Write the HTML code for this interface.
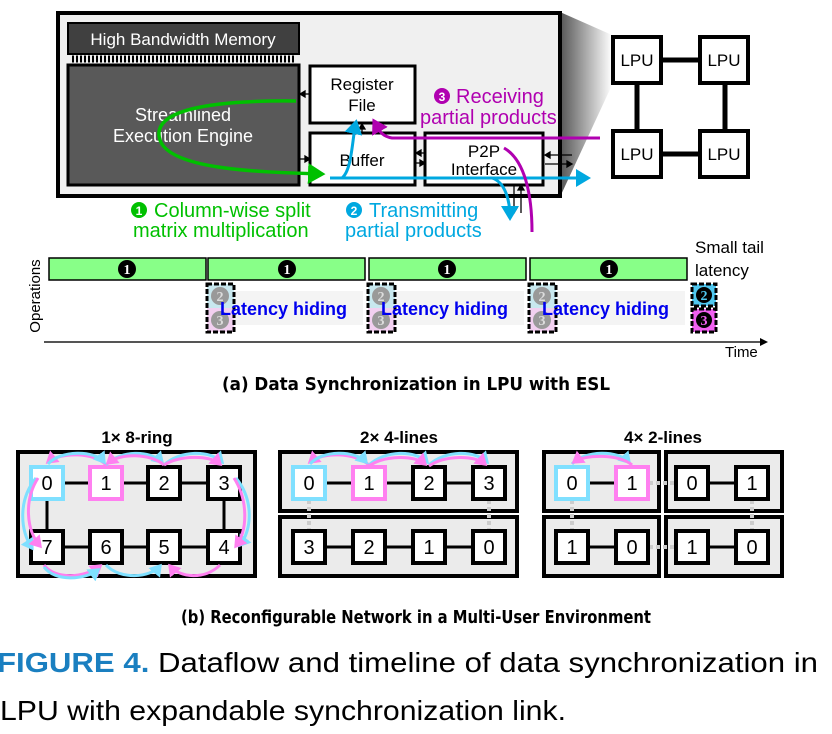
<!DOCTYPE html>
<html><head><meta charset="utf-8"><style>
html,body{margin:0;padding:0;background:#fff;}
svg{display:block;font-family:"Liberation Sans",Arial,sans-serif;}
</style></head><body>
<svg width="832" height="734" viewBox="0 0 832 734" xmlns="http://www.w3.org/2000/svg">
<defs>
<linearGradient id="sh" x1="0" x2="1" y1="0" y2="0"><stop offset="0" stop-color="#555"/><stop offset="1" stop-color="#fff"/></linearGradient>
<marker id="ag" markerWidth="6" markerHeight="6" refX="4" refY="3" orient="auto" markerUnits="strokeWidth"><path d="M0,0 L5,3 L0,6z" fill="#00c000"/></marker>
<marker id="ab" markerWidth="6" markerHeight="6" refX="4" refY="3" orient="auto" markerUnits="strokeWidth"><path d="M0,0 L5,3 L0,6z" fill="#00a8e0"/></marker>
<marker id="am" markerWidth="6" markerHeight="6" refX="4" refY="3" orient="auto" markerUnits="strokeWidth"><path d="M0,0 L5,3 L0,6z" fill="#b000b0"/></marker>
<marker id="ak" markerWidth="8" markerHeight="8" refX="6" refY="4" orient="auto" markerUnits="userSpaceOnUse"><path d="M0,0 L8,4 L0,8z" fill="#000"/></marker>
<marker id="pc" markerWidth="5" markerHeight="5" refX="3" refY="2.5" orient="auto" markerUnits="strokeWidth"><path d="M0,0 L4,2.5 L0,5z" fill="#7fe0ff"/></marker>
<marker id="pm" markerWidth="5" markerHeight="5" refX="3" refY="2.5" orient="auto" markerUnits="strokeWidth"><path d="M0,0 L4,2.5 L0,5z" fill="#ff80f0"/></marker>
</defs>

<polygon points="560,12 612,35 612,85 560,197" fill="url(#sh)"/>
<rect x="58" y="13" width="502" height="183" fill="#f0f0f0" stroke="#000" stroke-width="4"/>
<rect x="68" y="23" width="231" height="31" fill="#404040" stroke="#000" stroke-width="2"/>
<text x="183" y="45" font-size="17" fill="#fff" text-anchor="middle">High Bandwidth Memory</text>
<line x1="72" y1="59" x2="296" y2="59" stroke="#000" stroke-width="7" stroke-dasharray="2,2"/>
<rect x="68" y="65" width="231" height="120" fill="#595959" stroke="#000" stroke-width="3"/>
<text x="183" y="121" font-size="18" fill="#fff" text-anchor="middle">Streamlined</text>
<text x="183" y="142" font-size="18" fill="#fff" text-anchor="middle">Execution Engine</text>
<rect x="310" y="66" width="105" height="57" fill="#fff" stroke="#000" stroke-width="3"/>
<text x="362" y="90" font-size="17" text-anchor="middle">Register</text>
<text x="362" y="111" font-size="17" text-anchor="middle">File</text>
<rect x="310" y="133" width="105" height="52" fill="#fff" stroke="#000" stroke-width="3"/>
<text x="362" y="166" font-size="17" text-anchor="middle">Buffer</text>
<rect x="425" y="133" width="118" height="52" fill="#fff" stroke="#000" stroke-width="3"/>
<text x="484" y="157" font-size="17" text-anchor="middle">P2P</text>
<text x="484" y="175" font-size="17" text-anchor="middle">Interface</text>
<g stroke="#000" stroke-width="1.3">
<line x1="310" y1="94" x2="302" y2="94"/><path d="M300,94 l5,-3 v6z"/>
<line x1="300" y1="159" x2="308" y2="159"/><path d="M310,159 l-5,-3 v6z"/>
<line x1="362" y1="133" x2="362" y2="127"/><path d="M362,124 l-3,5 h6z"/>
<line x1="425" y1="153" x2="418" y2="153"/><path d="M416,153 l5,-3 v6z"/>
<line x1="416" y1="163" x2="423" y2="163"/><path d="M425,163 l-5,-3 v6z"/>
<line x1="572" y1="155" x2="547" y2="155"/><path d="M545,155 l5,-3 v6z"/>
<line x1="545" y1="164" x2="570" y2="164"/><path d="M572,164 l-5,-3 v6z"/>
<line x1="514" y1="185" x2="514" y2="210"/><path d="M514,213 l-3,-5 h6z"/>
<line x1="521" y1="213" x2="521" y2="188"/><path d="M521,185 l-3,5 h6z"/>
</g>
<path d="M296,101 C210,100 150,110 160,140 C170,170 260,172 322,174" fill="none" stroke="#00c000" stroke-width="3.5" marker-end="url(#ag)"/>
<path d="M330,178 L588,178" fill="none" stroke="#00a8e0" stroke-width="3" marker-end="url(#ab)"/>
<path d="M342,178 C352,170 352,140 356,122" fill="none" stroke="#00a8e0" stroke-width="3" marker-end="url(#ab)"/>
<path d="M492,178 C505,182 510,200 510,218" fill="none" stroke="#00a8e0" stroke-width="3" marker-end="url(#ab)"/>
<path d="M600,138 L392,138 C380,136 378,128 374,121" fill="none" stroke="#b000b0" stroke-width="3" marker-end="url(#am)"/>
<path d="M504,148 C525,160 532,195 532,232" fill="none" stroke="#b000b0" stroke-width="3"/>
<g font-size="20">
<circle cx="139" cy="210" r="8" fill="#00c000"/><text x="139" y="215" font-size="12" font-weight="bold" fill="#fff" text-anchor="middle">1</text>
<text x="154" y="217" fill="#00c000">Column-wise split</text>
<text x="133" y="237" fill="#00c000">matrix multiplication</text>
<circle cx="354" cy="210" r="8" fill="#00a8e0"/><text x="354" y="215" font-size="12" font-weight="bold" fill="#fff" text-anchor="middle">2</text>
<text x="369" y="217" fill="#00a8e0">Transmitting</text>
<text x="345" y="237" fill="#00a8e0">partial products</text>
<circle cx="442" cy="96" r="8" fill="#b000b0"/><text x="442" y="101" font-size="12" font-weight="bold" fill="#fff" text-anchor="middle">3</text>
<text x="456" y="103" fill="#b000b0">Receiving</text>
<text x="420" y="124" fill="#b000b0">partial products</text>
</g>
<g stroke="#000">
<line x1="662" y1="60" x2="700" y2="60" stroke-width="5"/>
<line x1="662" y1="154" x2="700" y2="154" stroke-width="5"/>
<line x1="637" y1="85" x2="637" y2="129" stroke-width="5"/>
<line x1="725" y1="85" x2="725" y2="129" stroke-width="5"/>
<rect x="613" y="37" width="48" height="46" fill="#fff" stroke-width="4"/>
<rect x="700" y="37" width="48" height="46" fill="#fff" stroke-width="4"/>
<rect x="613" y="131" width="48" height="46" fill="#fff" stroke-width="4"/>
<rect x="700" y="131" width="48" height="46" fill="#fff" stroke-width="4"/>
</g>
<g font-size="17" text-anchor="middle">
<text x="637" y="66">LPU</text><text x="724" y="66">LPU</text>
<text x="637" y="160">LPU</text><text x="724" y="160">LPU</text>
</g>

<g stroke="#000" stroke-width="1.5" fill="#88ff88">
<rect x="49" y="258" width="157" height="22"/>
<rect x="208" y="258" width="157" height="22"/>
<rect x="369" y="258" width="157" height="22"/>
<rect x="530" y="258" width="157" height="22"/>
</g>
<g>
<circle cx="127" cy="269" r="9"/><circle cx="287" cy="269" r="9"/><circle cx="447" cy="269" r="9"/><circle cx="609" cy="269" r="9"/>
</g>
<g font-size="14" font-weight="bold" fill="#fff" text-anchor="middle" font-family="Liberation Serif,serif">
<text x="127" y="274">1</text><text x="287" y="274">1</text><text x="447" y="274">1</text><text x="609" y="274">1</text>
</g>
<g>
<rect x="234" y="291" width="129" height="34" fill="#f4f4f4"/>
<rect x="395" y="291" width="129" height="34" fill="#f4f4f4"/>
<rect x="556" y="291" width="129" height="34" fill="#f4f4f4"/>
</g>
<g id="db">
<rect x="207" y="284" width="27" height="24" fill="#c8e8ef"/>
<rect x="207" y="308" width="27" height="24" fill="#f2d0f0"/>
<rect x="207" y="284" width="27" height="48" fill="none" stroke="#000" stroke-width="3" stroke-dasharray="5,2"/>
<circle cx="220" cy="296" r="9" fill="#999"/><circle cx="220" cy="320" r="9" fill="#999"/>
<text x="220" y="301" font-size="14" font-weight="bold" fill="#ddd" text-anchor="middle" font-family="Liberation Serif,serif">2</text>
<text x="220" y="325" font-size="14" font-weight="bold" fill="#ddd" text-anchor="middle" font-family="Liberation Serif,serif">3</text>
</g>
<use href="#db" x="161"/><use href="#db" x="322"/>
<g font-size="18" font-weight="bold" fill="#0000ee">
<text x="220" y="315">Latency hiding</text>
<text x="381" y="315">Latency hiding</text>
<text x="542" y="315">Latency hiding</text>
</g>
<rect x="692" y="284" width="24" height="22" fill="#50c8f0" stroke="#000" stroke-width="3" stroke-dasharray="5,2"/>
<rect x="692" y="309" width="24" height="23" fill="#f060f0" stroke="#000" stroke-width="3" stroke-dasharray="5,2"/>
<circle cx="704" cy="295" r="8"/><circle cx="704" cy="320" r="8"/>
<text x="704" y="300" font-size="14" font-weight="bold" fill="#50c8f0" text-anchor="middle" font-family="Liberation Serif,serif">2</text>
<text x="704" y="325" font-size="14" font-weight="bold" fill="#f060f0" text-anchor="middle" font-family="Liberation Serif,serif">3</text>
<text x="695" y="253" font-size="17">Small tail</text>
<text x="695" y="276" font-size="17">latency</text>
<line x1="44" y1="342" x2="766" y2="342" stroke="#555" stroke-width="2" marker-end="url(#ak)"/>
<text x="725" y="357" font-size="15">Time</text>
<text transform="translate(40,296) rotate(-90)" font-size="15" text-anchor="middle">Operations</text>

<text x="416" y="390" font-size="18" font-weight="bold" text-anchor="middle" font-family="DejaVu Sans Condensed, DejaVu Sans, sans-serif" textLength="388" lengthAdjust="spacingAndGlyphs">(a) Data Synchronization in LPU with ESL</text>

<g font-size="17" font-weight="bold" text-anchor="middle">
<text x="137" y="443">1× 8-ring</text>
<text x="399" y="443">2× 4-lines</text>
<text x="663" y="443">4× 2-lines</text>
</g>
<g fill="#ebebeb" stroke="#000" stroke-width="4">
<rect x="18" y="452" width="237" height="124"/>
<rect x="280" y="452" width="237" height="59"/>
<rect x="280" y="517" width="237" height="59"/>
<rect x="544" y="452" width="115" height="59"/>
<rect x="666" y="452" width="116" height="59"/>
<rect x="544" y="517" width="115" height="59"/>
<rect x="666" y="517" width="116" height="59"/>
</g>
<g stroke="#000" stroke-width="3">
<line x1="47" y1="483" x2="224" y2="483"/><line x1="47" y1="547" x2="224" y2="547"/>
<line x1="47" y1="483" x2="47" y2="547"/><line x1="224" y1="483" x2="224" y2="547"/>
<line x1="309" y1="483" x2="489" y2="483"/><line x1="309" y1="547" x2="489" y2="547"/>
<line x1="572" y1="483" x2="632" y2="483"/><line x1="572" y1="547" x2="632" y2="547"/>
<line x1="692" y1="483" x2="752" y2="483"/><line x1="692" y1="547" x2="752" y2="547"/>
</g>
<g stroke="#ccc" stroke-width="4" stroke-dasharray="4,3">
<line x1="309" y1="500" x2="309" y2="530"/><line x1="489" y1="500" x2="489" y2="530"/>
<line x1="572" y1="500" x2="572" y2="530"/><line x1="752" y1="500" x2="752" y2="530"/>
<line x1="649" y1="483" x2="675" y2="483"/><line x1="649" y1="547" x2="675" y2="547"/>
</g>
<g fill="#fff" stroke="#000" stroke-width="4">
<rect x="31" y="467" width="32" height="32" stroke="#80e0ff"/><rect x="90" y="467" width="32" height="32" stroke="#ff80f0"/>
<rect x="148" y="467" width="32" height="32"/><rect x="208" y="467" width="32" height="32"/>
<rect x="31" y="531" width="32" height="32"/><rect x="90" y="531" width="32" height="32"/>
<rect x="148" y="531" width="32" height="32"/><rect x="208" y="531" width="32" height="32"/>
<rect x="293" y="467" width="32" height="32" stroke="#80e0ff"/><rect x="353" y="467" width="32" height="32" stroke="#ff80f0"/>
<rect x="413" y="467" width="32" height="32"/><rect x="473" y="467" width="32" height="32"/>
<rect x="293" y="531" width="32" height="32"/><rect x="353" y="531" width="32" height="32"/>
<rect x="413" y="531" width="32" height="32"/><rect x="473" y="531" width="32" height="32"/>
<rect x="556" y="467" width="32" height="32" stroke="#80e0ff"/><rect x="616" y="467" width="32" height="32" stroke="#ff80f0"/>
<rect x="676" y="467" width="32" height="32"/><rect x="736" y="467" width="32" height="32"/>
<rect x="556" y="531" width="32" height="32"/><rect x="616" y="531" width="32" height="32"/>
<rect x="676" y="531" width="32" height="32"/><rect x="736" y="531" width="32" height="32"/>
</g>
<g font-size="20" text-anchor="middle">
<text x="47" y="490">0</text><text x="106" y="490">1</text><text x="164" y="490">2</text><text x="224" y="490">3</text>
<text x="47" y="554">7</text><text x="106" y="554">6</text><text x="164" y="554">5</text><text x="224" y="554">4</text>
<text x="309" y="490">0</text><text x="369" y="490">1</text><text x="429" y="490">2</text><text x="489" y="490">3</text>
<text x="309" y="554">3</text><text x="369" y="554">2</text><text x="429" y="554">1</text><text x="489" y="554">0</text>
<text x="572" y="490">0</text><text x="632" y="490">1</text><text x="692" y="490">0</text><text x="752" y="490">1</text>
<text x="572" y="554">1</text><text x="632" y="554">0</text><text x="692" y="554">1</text><text x="752" y="554">0</text>
</g>
<g fill="none" stroke-width="3">
<path d="M106,465 C95,452 60,452 48,462" stroke="#ff80f0" marker-end="url(#pm)"/>
<path d="M48,464 C60,450 95,450 104,462" stroke="#7fe0ff" marker-end="url(#pc)"/>
<path d="M106,465 C120,450 150,450 162,462" stroke="#7fe0ff" marker-end="url(#pc)"/>
<path d="M164,465 C150,453 120,453 108,463" stroke="#ff80f0" marker-end="url(#pm)"/>
<path d="M164,465 C180,450 210,450 222,462" stroke="#7fe0ff" marker-end="url(#pc)"/>
<path d="M164,465 C180,455 210,455 220,464" stroke="#ff80f0" marker-end="url(#pm)"/>
<path d="M36,478 C18,500 20,530 32,548" stroke="#7fe0ff" marker-end="url(#pc)"/>
<path d="M38,478 C24,500 26,530 40,546" stroke="#ff80f0" marker-end="url(#pm)"/>
<path d="M236,478 C254,500 252,530 240,545" stroke="#7fe0ff" marker-end="url(#pc)"/>
<path d="M234,478 C248,500 248,530 236,546" stroke="#ff80f0" marker-end="url(#pm)"/>
<path d="M44,565 C55,580 85,578 100,566" stroke="#ff80f0" marker-end="url(#pm)"/>
<path d="M44,567 C55,582 85,580 98,570" stroke="#7fe0ff" marker-end="url(#pc)"/>
<path d="M106,565 C120,580 150,578 160,566" stroke="#7fe0ff" marker-end="url(#pc)"/>
<path d="M220,565 C205,580 180,578 170,566" stroke="#ff80f0" marker-end="url(#pm)"/>
<path d="M369,465 C355,452 322,452 310,462" stroke="#ff80f0" marker-end="url(#pm)"/>
<path d="M310,464 C322,450 355,450 366,462" stroke="#7fe0ff" marker-end="url(#pc)"/>
<path d="M369,465 C385,450 415,450 427,462" stroke="#7fe0ff" marker-end="url(#pc)"/>
<path d="M369,466 C385,455 415,455 425,464" stroke="#ff80f0" marker-end="url(#pm)"/>
<path d="M429,465 C445,450 475,450 487,462" stroke="#7fe0ff" marker-end="url(#pc)"/>
<path d="M429,466 C445,455 475,455 485,464" stroke="#ff80f0" marker-end="url(#pm)"/>
<path d="M572,464 C585,450 618,450 629,462" stroke="#7fe0ff" marker-end="url(#pc)"/>
<path d="M632,465 C620,454 585,454 574,462" stroke="#ff80f0" marker-end="url(#pm)"/>
</g>

<text x="416" y="623" font-size="18" font-weight="bold" text-anchor="middle" font-family="DejaVu Sans Condensed, DejaVu Sans, sans-serif" textLength="470" lengthAdjust="spacingAndGlyphs">(b) Reconfigurable Network in a Multi-User Environment</text>
<text x="-3" y="672" font-size="28" textLength="821" lengthAdjust="spacingAndGlyphs"><tspan fill="#1a7fc0" font-weight="bold">FIGURE 4.</tspan> Dataflow and timeline of data synchronization in</text>
<text x="0" y="720" font-size="28" textLength="566" lengthAdjust="spacingAndGlyphs">LPU with expandable synchronization link.</text>
</svg>
</body></html>
